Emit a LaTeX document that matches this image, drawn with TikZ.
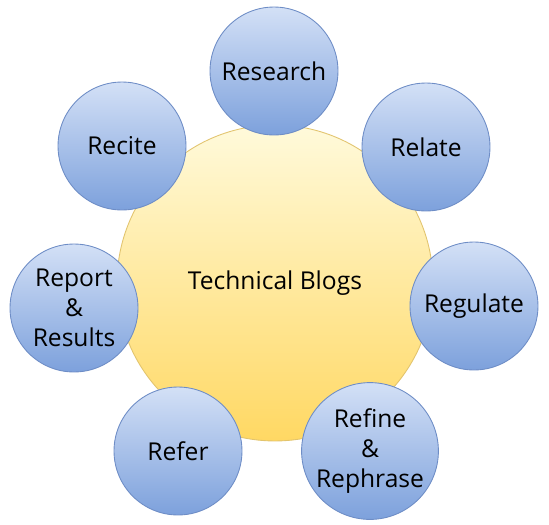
\documentclass[tikz,border=0pt]{standalone}
\usepackage{fontspec}
\setmainfont{Open Sans}
\usepackage{xcolor}
\usepackage{tikz}
\definecolor{bubbletop}{HTML}{D3E0F6}
\definecolor{bubblebottom}{HTML}{7DA1DC}
\definecolor{bubbleline}{HTML}{6E8DC6}
\definecolor{hubtop}{HTML}{FFFADB}
\definecolor{hubbottom}{HTML}{FFD863}
\definecolor{hubline}{HTML}{E2C46E}
\tikzset{
    hub/.style={circle,draw=hubline,line width=0.5pt,top color=hubtop,bottom color=hubbottom,minimum size=6.32cm,inner sep=0pt,font=\fontsize{14}{17}\selectfont},
    bubble/.style={circle,draw=bubbleline,line width=0.5pt,top color=bubbletop,bottom color=bubblebottom,minimum size=2.56cm,inner sep=0pt,align=center,font=\fontsize{14}{17}\selectfont}
}

\begin{document}
\begin{tikzpicture}[x=0.02cm,y=0.02cm]
    \useasboundingbox (0,0) rectangle (549,-525);
    \node[hub] (blogs) at (275,-283) {Technical Blogs};
    \foreach \name/\x/\y/\label in {
        research/274/71/Research,
        relate/426/147/Relate,
        regulate/474/306/Regulate,
        refine/370/451/{Refine\\\&\\Rephrase},
        refer/178/451/Refer,
        report/74/308/{Report\\\&\\Results},
        recite/122/146/Recite}{
        \node[bubble] (\name) at (\x,-\y) {\label};
    }
\end{tikzpicture}
\end{document}
